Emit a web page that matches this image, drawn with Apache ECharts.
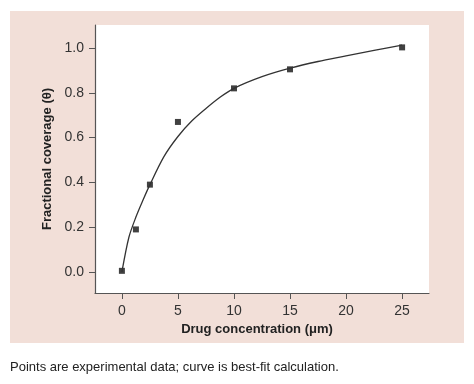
<!DOCTYPE html>
<html>
<head>
<meta charset="utf-8">
<script src="https://cdn.jsdelivr.net/npm/echarts@6/dist/echarts.min.js"></script>
<style>
html,body{margin:0;padding:0;background:#fff;}
#wrap{position:relative;width:474px;height:384px;}
#pink{position:absolute;left:10px;top:11px;width:454px;height:332px;background:#f2dfd8;}
#chart{position:absolute;left:0;top:0;width:474px;height:384px;}
</style>
</head>
<body>
<div id="wrap"><div id="pink"></div><div id="chart"></div></div>
<script>
// Experimental points
const pointX = [0, 1.25, 2.5, 5, 10, 15, 25];
const pointY = [0.005, 0.19, 0.39, 0.67, 0.82, 0.905, 1.003];
// Best-fit curve
const curveX = [0, 0.625, 1.25, 1.875, 2.5, 3.75, 5, 6.25, 7.5, 8.75, 10, 12.5, 15, 17.5, 20, 22.5, 25];
const curveY = [0, 0.155, 0.245, 0.32, 0.39, 0.515, 0.605, 0.675, 0.73, 0.78, 0.82, 0.872, 0.91, 0.94, 0.965, 0.99, 1.013];
// Tick labels
const xTicks = [0, 5, 10, 15, 20, 25];
const yTicks = [0, 0.2, 0.4, 0.6, 0.8, 1.0];
const xName = 'Drug concentration (μm)';
const yName = 'Fractional coverage (θ)';
const caption = 'Points are experimental data; curve is best-fit calculation.';

const chart = echarts.init(document.getElementById('chart'), null, {renderer: 'canvas'});
const font = 'Liberation Sans, Arial, Helvetica, sans-serif';
const axisCol = '#555';
chart.setOption({
  backgroundColor: 'transparent',
  animation: false,
  title: {
    text: caption, left: 5, top: 356,
    textStyle: {fontFamily: font, fontSize: 13, fontWeight: 'normal', color: '#222'}
  },
  grid: {left: 95, top: 25, width: 334, height: 268, show: true, backgroundColor: '#fff', borderWidth: 0},
  xAxis: {
    type: 'value', min: -2.4, max: 27.4,
    name: xName, nameLocation: 'middle', nameGap: 27,
    nameTextStyle: {fontFamily: font, fontSize: 13, fontWeight: 'bold', color: '#222', padding: [0, 10, 0, 0]},
    axisLine: {show: true, onZero: false, lineStyle: {color: axisCol, width: 1.2}},
    axisTick: {show: true, length: 6, customValues: xTicks, lineStyle: {color: axisCol}},
    axisLabel: {customValues: xTicks, margin: 11, fontFamily: font, fontSize: 14, color: '#333'},
    splitLine: {show: false}
  },
  yAxis: {
    type: 'value', min: -0.094, max: 1.103,
    name: yName, nameLocation: 'middle', nameGap: 40, nameRotate: 90,
    nameTextStyle: {fontFamily: font, fontSize: 13, fontWeight: 'bold', color: '#222'},
    axisLine: {show: true, onZero: false, lineStyle: {color: axisCol, width: 1.2}},
    axisTick: {show: true, length: 6, customValues: yTicks, lineStyle: {color: axisCol}},
    axisLabel: {customValues: yTicks, margin: 11, fontFamily: font, fontSize: 14, color: '#333',
      formatter: v => v.toFixed(1)},
    splitLine: {show: false}
  },
  series: [
    {
      type: 'line', smooth: 0.3, showSymbol: false, silent: true,
      data: curveX.map((x, i) => [x, curveY[i]]),
      lineStyle: {color: '#333', width: 1.3}
    },
    {
      type: 'scatter', symbol: 'rect', symbolSize: 6,
      data: pointX.map((x, i) => [x, pointY[i]]),
      itemStyle: {color: '#111'}
    }
  ]
});
</script>
</body>
</html>
